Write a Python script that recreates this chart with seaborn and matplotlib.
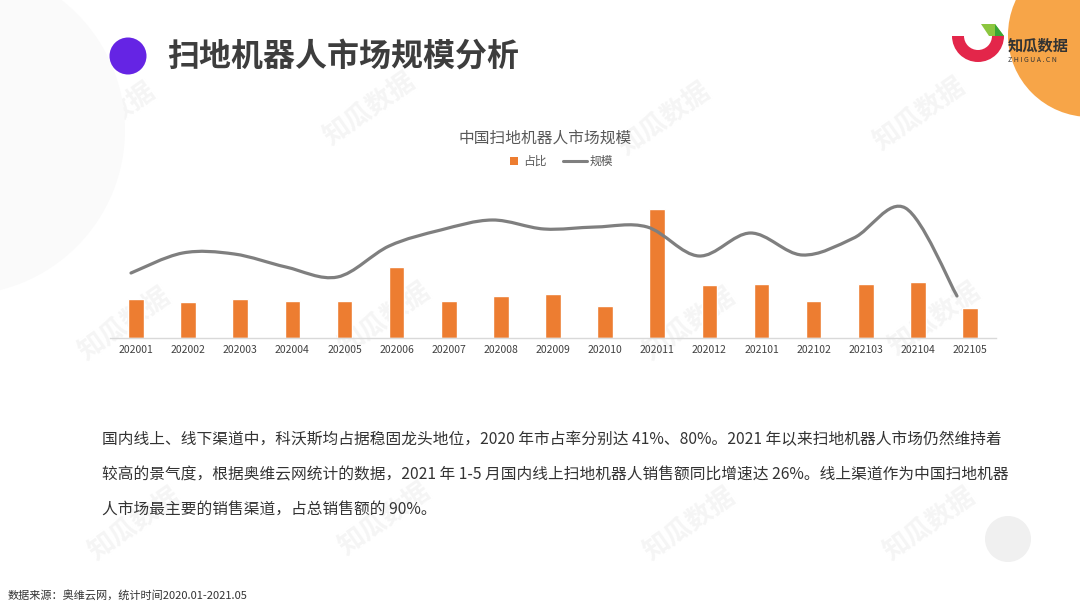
import numpy as np
import pandas as pd
import matplotlib
matplotlib.use("Agg")
import matplotlib.pyplot as plt
import seaborn as sns
from matplotlib.patches import Circle, Wedge, Polygon, Rectangle, PathPatch
from matplotlib.path import Path
from matplotlib.lines import Line2D

# ---------------- data ----------------
months = ["202001", "202002", "202003", "202004", "202005", "202006", "202007",
          "202008", "202009", "202010", "202011", "202012", "202101", "202102",
          "202103", "202104", "202105"]
share = [39, 36, 39.5, 37, 37, 71, 37, 42, 44, 32, 129, 53, 54, 37, 54, 56, 30]
scale = [65, 85, 84, 71, 61, 92, 108, 118, 109, 111, 111, 82, 105, 83, 100, 130, 42]

title = "扫地机器人市场规模分析"
chart_title = "中国扫地机器人市场规模"
legend_labels = ["占比", "规模"]
body_lines = [
    "国内线上、线下渠道中，科沃斯均占据稳固龙头地位，2020 年市占率分别达 41%、80%。2021 年以来扫地机器人市场仍然维持着",
    "较高的景气度，根据奥维云网统计的数据，2021 年 1-5 月国内线上扫地机器人销售额同比增速达 26%。线上渠道作为中国扫地机器",
    "人市场最主要的销售渠道，占总销售额的 90%。",
]
source = "数据来源：奥维云网，统计时间2020.01-2021.05"

# ---------------- style ----------------
sns.set_theme(style="white")
plt.rcParams["font.family"] = ["Noto Sans CJK SC", "DejaVu Sans"]

W, H = 1080, 606
fig = plt.figure(figsize=(W / 100, H / 100), dpi=100)
fig.patch.set_facecolor("white")

# background overlay in pixel coordinates
bg = fig.add_axes([0, 0, 1, 1], zorder=0)
bg.set_xlim(0, W)
bg.set_ylim(H, 0)
bg.axis("off")

bg.add_patch(Circle((-40, 130), 165, color="#fafafa", lw=0))
bg.add_patch(Circle((1090, 35), 82, color="#f7a548", lw=0))
bg.add_patch(Circle((1008, 539), 23, color="#f0f0f0", lw=0))

# watermarks
for (wx, wy) in [(110, 120), (370, 110), (665, 120), (920, 115),
                 (125, 325), (385, 320), (690, 325), (935, 320),
                 (135, 525), (385, 520), (690, 525), (930, 525)]:
    bg.text(wx, wy, "知瓜数据", fontsize=19, fontweight="bold", color="#f5f5f5",
            rotation=35, ha="center", va="center", zorder=0.5)

# title block
bg.add_patch(Circle((128, 56), 18.5, color="#6524e4", lw=0, zorder=2))
bg.text(167, 57, title, fontsize=23, fontweight="bold", color="#3d3d3d",
        ha="left", va="center", zorder=3)

# logo
bg.add_patch(Wedge((978, 36), 26, 0, 180, width=12, color="#e3264a", lw=0, zorder=3))
bg.add_patch(Polygon([[981, 24], [995, 24], [1004, 36], [989, 36]], closed=True,
                     color="#8cc63f", lw=0, zorder=3))
bg.add_patch(Polygon([[995, 24], [1004, 36], [995, 36]], closed=True,
                     color="#3aa635", lw=0, zorder=3))
bg.text(1008, 46, "知瓜数据", fontsize=11, fontweight="bold", color="#333333",
        ha="left", va="center", zorder=3)
bg.text(1008, 60, "Z H I G U A . C N", fontsize=5, color="#333333",
        ha="left", va="center", zorder=3)

# chart title and legend
bg.text(545, 138, chart_title, fontsize=11.3, color="#595959", ha="center", va="center", zorder=3)
bg.add_patch(Rectangle((510, 157), 8, 8, color="#ed7d31", lw=0, zorder=3))
bg.text(523, 161, legend_labels[0], fontsize=8.5, color="#595959", ha="left", va="center", zorder=3)
bg.add_line(Line2D([563, 587], [161, 161], color="#7f7f7f", lw=2.2, zorder=3))
bg.text(590, 161, legend_labels[1], fontsize=8.5, color="#595959", ha="left", va="center", zorder=3)

# body text
for i, line in enumerate(body_lines):
    bg.text(102, 440 + i * 34.5, line, fontsize=11.3, color="#333333",
            ha="left", va="center", zorder=3)
bg.text(8, 596, source, fontsize=8, color="#333333", ha="left", va="center", zorder=3)

# ---------------- chart ----------------
x0, x1 = 110, 996
ybase, ytop = 338, 190
ax = fig.add_axes([x0 / W, 1 - ybase / H, (x1 - x0) / W, (ybase - ytop) / H], zorder=2)
ax.patch.set_alpha(0)
df = pd.DataFrame({"month": months, "share": share})
sns.barplot(data=df, x="month", y="share", color="#ed7d31", width=0.3,
            saturation=1, ax=ax)
ax.set_xlim(-0.5, len(months) - 0.5)
ax.set_ylim(0, ybase - ytop)
ax.set_xlabel("")
ax.set_ylabel("")
ax.set_yticks([])
for s in ["top", "right", "left"]:
    ax.spines[s].set_visible(False)
ax.spines["bottom"].set_color("#d9d9d9")
ax.spines["bottom"].set_linewidth(1)
ax.tick_params(axis="x", which="major", length=0, labelsize=7.5, labelcolor="#404040", pad=5)
ax.set_xticks(np.arange(-0.5, len(months) + 0.5, 1), minor=True)
ax.tick_params(axis="x", which="minor", length=4, color="#d9d9d9", width=1, direction="out")

# smooth line on its own axes
lx0, lx1 = 131, 957
ax2 = fig.add_axes([lx0 / W, 1 - ybase / H, (lx1 - lx0) / W, (ybase - ytop) / H], zorder=3)
ax2.patch.set_alpha(0)
ax2.axis("off")
n = len(scale)
ax2.set_xlim(0, n - 1)
ax2.set_ylim(0, ybase - ytop)
pts = np.column_stack([np.arange(n, dtype=float), np.array(scale, dtype=float)])
verts = [tuple(pts[0])]
codes = [Path.MOVETO]
for i in range(n - 1):
    p0 = pts[max(i - 1, 0)]
    p1 = pts[i]
    p2 = pts[i + 1]
    p3 = pts[min(i + 2, n - 1)]
    c1 = p1 + (p2 - p0) / 6.0
    c2 = p2 - (p3 - p1) / 6.0
    verts += [tuple(c1), tuple(c2), tuple(p2)]
    codes += [Path.CURVE4, Path.CURVE4, Path.CURVE4]
ax2.add_patch(PathPatch(Path(verts, codes), facecolor="none", edgecolor="#7f7f7f",
                        lw=2.3, capstyle="round", joinstyle="round", clip_on=False))

fig.savefig("out.png", dpi=100, facecolor="white")
